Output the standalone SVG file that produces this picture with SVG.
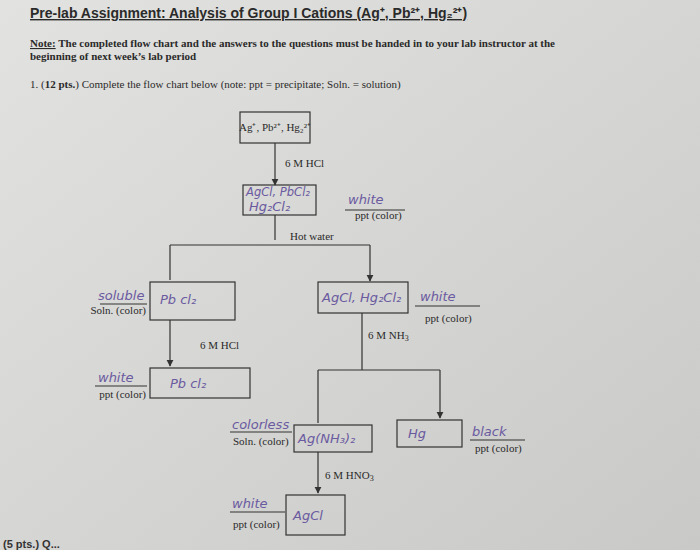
<svg xmlns="http://www.w3.org/2000/svg" width="700" height="550" viewBox="0 0 700 550">
<defs>
<marker id="ar" viewBox="0 0 10 10" refX="9" refY="5" markerWidth="6" markerHeight="6" orient="auto"><path d="M0,0L10,5L0,10z" fill="#333"/></marker>
<linearGradient id="bg" x1="0" y1="0" x2="1" y2="1"><stop offset="0" stop-color="#e2e2e0"/><stop offset="1" stop-color="#c9c9c7"/></linearGradient>
</defs>
<style>
.t{font-family:"Liberation Serif",serif;font-size:11px;fill:#2a2a2a}
.b{fill:none;stroke:#333;stroke-width:1.2}
.l{stroke:#333;stroke-width:1.2;fill:none}
.h{font-family:"DejaVu Sans",sans-serif;font-size:13px;fill:#6a5aa0;font-style:italic}
</style>
<rect width="700" height="550" fill="url(#bg)"/>
<text x="30" y="18" font-family="Liberation Sans,sans-serif" font-size="14" font-weight="bold" fill="#2a2a2a" text-decoration="underline">Pre-lab Assignment: Analysis of Group I Cations (Ag⁺, Pb²⁺, Hg₂²⁺)</text>
<text x="30" y="47" class="t" font-size="12" font-weight="bold"><tspan text-decoration="underline">Note:</tspan> The completed flow chart and the answers to the questions must be handed in to your lab instructor at the</text>
<text x="30" y="60" class="t" font-size="12" font-weight="bold">beginning of next week’s lab period</text>
<text x="30" y="88" class="t" font-size="12">1. (<tspan font-weight="bold">12 pts.</tspan>) Complete the flow chart below (note: ppt = precipitate; Soln. = solution)</text>
<g id="connectors">
<path class="l" d="M275,143V185" marker-end="url(#ar)"/>
<path class="l" d="M275,215V240"/>
<path class="l" d="M170,245H370M170,245V280M370,245V281" marker-end="url(#ar)"/>
<path class="l" d="M170,320V366" marker-end="url(#ar)"/>
<path class="l" d="M362,313V370M318,370H440M318,370V423M440,370V418" marker-end="url(#ar)"/>
<path class="l" d="M318,452V493" marker-end="url(#ar)"/>
<path class="l" d="M345,210H405M415,306H480M100,304H147M95,386H147M230,432H292M470,440H525M230,512H285"/>
</g>
<text x="285" y="167" class="t">6 M HCl</text>
<text x="290" y="240" class="t">Hot water</text>
<text x="200" y="349" class="t">6 M HCl</text>
<text x="368" y="339" class="t">6 M NH<tspan font-size="8" dy="2">3</tspan></text>
<text x="325" y="479" class="t">6 M HNO<tspan font-size="8" dy="2">3</tspan></text>
<g id="n1"><rect class="b" x="240" y="112" width="70" height="31"/><text x="275" y="131" class="t" font-size="8" text-anchor="middle">Ag⁺, Pb²⁺, Hg₂²⁺</text></g>
<g id="n2"><rect class="b" x="243" y="185" width="73" height="30"/><text x="246" y="196" class="h" font-size="9" textLength="64" lengthAdjust="spacingAndGlyphs">AgCl, PbCl₂</text><text x="249" y="211" class="h" font-size="10">Hg₂Cl₂</text>
<text x="348" y="204" class="h">white</text><text x="355" y="219" class="t" font-size="9">ppt (color)</text></g>
<g id="n3"><rect class="b" x="150" y="282" width="85" height="38"/><text x="160" y="304" class="h" font-size="14">Pb cl₂</text>
<text x="98" y="300" class="h" font-size="12">soluble</text><text x="146" y="314" class="t" font-size="9" text-anchor="end">Soln. (color)</text></g>
<g id="n4"><rect class="b" x="318" y="282" width="90" height="31"/><text x="322" y="302" class="h" font-size="12">AgCl, Hg₂Cl₂</text>
<text x="420" y="301" class="h" font-size="14">white</text><text x="425" y="322" class="t" font-size="9">ppt (color)</text></g>
<g id="n5"><rect class="b" x="150" y="368" width="100" height="30"/><text x="170" y="388" class="h" font-size="15">Pb cl₂</text>
<text x="98" y="382" class="h">white</text><text x="146" y="398" class="t" font-size="9" text-anchor="end">ppt (color)</text></g>
<g id="n6"><rect class="b" x="294" y="425" width="78" height="27"/><text x="298" y="443" class="h" font-size="12">Ag(NH₃)₂</text>
<text x="232" y="429" class="h" font-size="12">colorless</text><text x="233" y="445" class="t" font-size="9">Soln. (color)</text></g>
<g id="n7"><rect class="b" x="397" y="420" width="65" height="27"/><text x="408" y="438" class="h">Hg</text>
<text x="472" y="436" class="h" font-size="15">black</text><text x="475" y="452" class="t" font-size="9">ppt (color)</text></g>
<g id="n8"><rect class="b" x="286" y="495" width="59" height="40"/><text x="293" y="520" class="h" font-size="15">AgCl</text>
<text x="232" y="508" class="h">white</text><text x="233" y="528" class="t" font-size="9">ppt (color)</text></g>
<text x="3" y="548" font-family="Liberation Sans,sans-serif" font-size="11" font-weight="bold" fill="#333">(5 pts.) Q...</text>
</svg>
